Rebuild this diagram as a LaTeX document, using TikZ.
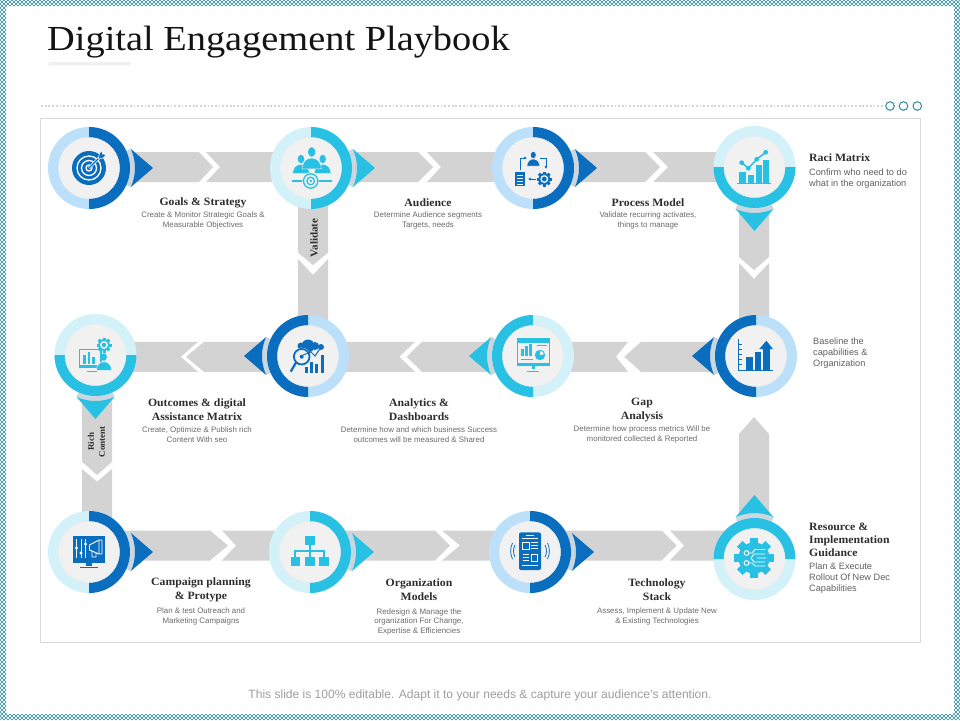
\documentclass[tikz,border=0pt]{standalone}
\usepackage{fontspec}
\usetikzlibrary{arrows.meta}
\setmainfont{Liberation Sans}
\newfontfamily\capfont[FakeStretch=1.09]{Liberation Serif}
\newfontfamily\boldcap[FakeStretch=1.05]{Liberation Serif}
\definecolor{bl}{HTML}{0B6DBD}
\definecolor{bllt}{HTML}{BCE0FA}
\definecolor{te}{HTML}{29C1E3}
\definecolor{telt}{HTML}{D3F1F8}
\definecolor{barg}{HTML}{D3D3D3}
\definecolor{crest}{HTML}{CBD6DF}
\definecolor{hubf}{HTML}{F1F1F1}
\definecolor{hatch}{HTML}{2F8BA5}
\tikzset{
  x=1pt,y=1pt,
  head/.style={font=\boldcap\bfseries\fontsize{11.2}{14}\selectfont,text=black!82,align=center,inner sep=0pt,yshift=-1.7pt},
  vhead/.style={text=black!82,align=center,inner sep=0pt,rotate=90},
  note/.style={font=\fontsize{7.9}{9.5}\selectfont,text=black!58,align=center,inner sep=0pt,yshift=-1pt},
  sidenote/.style={font=\fontsize{9.2}{11}\selectfont,text=black!62,align=left,inner sep=0pt,anchor=west,yshift=-1.2pt},
  hub/.style={circle,fill=hubf,draw=black!7,line width=.5pt,minimum size=61pt,inner sep=0pt},
  tiny dot/.style={circle,draw=hatch,line width=1pt,minimum size=8.6pt,inner sep=0pt}
}
% name, x, y, start of strong half, pale, strong, arrow angle
\newcommand{\dial}[7]{%
  \begin{scope}[shift={(#2,#3)}]
    \fill[crest] (0,0) -- ({#7-24.4}:46) arc[start angle=#7-24.4,end angle=#7+24.4,radius=46] -- cycle;
    \fill[#5] (0,0) circle[radius=41];
    \fill[#6] (#4:41) arc[start angle=#4,end angle=#4+180,radius=41] -- cycle;
    \fill[#6] ({#7+24.4}:46) -- (#7:64) -- ({#7-24.4}:46) arc[start angle=#7-24.4,end angle=#7+24.4,radius=46] -- cycle;
    \node[hub] (#1) at (0,0) {};
  \end{scope}}
\newcommand{\chevH}[7]{%
  \fill[barg] (#2,#1+15) -- (#3,#1+15) -- (#4,#1) -- (#3,#1-15) -- (#2,#1-15) -- cycle;
  \fill[barg] (#5,#1+15) -- (#6,#1) -- (#5,#1-15) -- (#7,#1-15) -- (#7,#1+15) -- cycle;}
\newcommand{\chevV}[7]{%
  \fill[barg] (#1-15,#2) -- (#1-15,#3) -- (#1,#4) -- (#1+15,#3) -- (#1+15,#2) -- cycle;
  \fill[barg] (#1-15,#5) -- (#1,#6) -- (#1+15,#5) -- (#1+15,#7) -- (#1-15,#7) -- cycle;}
\newcommand{\cogwheel}[4]{%
  \begin{scope}[shift={(#1,#2)}]
    \fill[#4] (0,0) circle[radius={0.78*#3}];
    \foreach \a in {0,45,...,315}{\fill[#4,rotate=\a] ({-0.2*#3},0) rectangle ({0.2*#3},#3);}
  \end{scope}}
% x, y of head, scale, colour
\newcommand{\persona}[4]{%
  \begin{scope}[shift={(#1,#2)},scale=#3]
    \fill[#4] (0,0) ellipse[x radius=3.1,y radius=4];
    \fill[#4,draw=hubf,line width=.5pt] (-8,-14) .. controls (-8,-8) and (-4,-5) .. (0,-5) .. controls (4,-5) and (8,-8) .. (8,-14) -- cycle;
  \end{scope}}
\begin{document}
\begin{tikzpicture}
\useasboundingbox (0,0) rectangle (960,-720);
\fill[white] (0,0) rectangle (960,-720);
% hatched page border
\begin{scope}[even odd rule]
  \clip (0,0) rectangle (960,-720) (6,-6) rectangle (954,-714);
  \foreach \k in {-720,-716,...,960}{
    \draw[hatch,line width=.55pt] (\k,0) -- (\k+720,-720);
    \draw[hatch,line width=.55pt] (\k,-720) -- (\k+720,0);
  }
\end{scope}
% title and rules
\node[font=\capfont\fontsize{35.2}{40}\selectfont,text=black!92,anchor=west,inner sep=0pt] (title) at (47,-42) {Digital Engagement Playbook};
\fill[black!6,rounded corners=1.5pt] (48,-62) rectangle (131,-65.5);
\draw[black!17,line width=1.8pt,dash pattern=on 1.8pt off 1.9pt] (41,-106) -- (884,-106);
\node[tiny dot] (d1) at (890,-106) {};
\node[tiny dot] (d2) at (903.5,-106) {};
\node[tiny dot] (d3) at (917.3,-106) {};
\draw[black!15,line width=1pt] (40.5,-118.3) rectangle (920,-642.7);
% bars
\chevH{-167}{89}{199}{213}{206}{220}{311}
\chevH{-167}{311}{418}{433}{427}{441}{533}
\chevH{-167}{533}{645}{660}{653}{668}{755}
\chevV{754}{-167}{-257}{-270}{-263}{-279}{-356}
\chevV{313}{-168}{-252.7}{-265}{-259}{-275}{-356}
\chevH{-356.8}{756}{641}{624.3}{628}{616}{533}
\chevH{-356.8}{533}{422}{406.7}{415}{399.3}{308}
\chevH{-356.8}{308}{204}{186}{198}{180.7}{95}
\chevV{97}{-355}{-461.7}{-475}{-469}{-481.7}{-552}
\chevH{-545.5}{89}{210}{228}{222}{236}{310}
\chevH{-545.5}{310}{435}{450}{442}{460}{530}
\chevH{-545.5}{530}{661.7}{676.7}{670}{684}{754}
\fill[barg] (739,-559) -- (739,-434) -- (754,-417) -- (769,-434) -- (769,-559) -- cycle;
% dials
\dial{c1}{89}{-168}{-90}{bllt}{bl}{0}
\dial{c2}{311}{-168}{-90}{telt}{te}{0}
\dial{c3}{533}{-168}{-90}{bllt}{bl}{0}
\dial{c4}{754.5}{-167}{180}{telt}{te}{-90}
\dial{c5}{756}{-356}{90}{bllt}{bl}{180}
\dial{c6}{533}{-356}{90}{telt}{te}{180}
\dial{c7}{308}{-356}{90}{bllt}{bl}{180}
\dial{c8}{95.5}{-355}{180}{telt}{te}{-90}
\dial{c9}{89}{-552}{-90}{telt}{bl}{0}
\dial{c10}{310}{-552}{-90}{telt}{te}{0}
\dial{c11}{530}{-552}{-90}{bllt}{bl}{0}
\dial{c12}{754.5}{-559}{0}{telt}{te}{90}
% icon 1: target
\fill[bl] (89,-168) circle[radius=17];
\draw[white,line width=1.3pt] (89,-168) circle[radius=12] (89,-168) circle[radius=7.5] (89,-168) circle[radius=3];
\draw[white,line width=2.6pt] (89,-168) -- (101,-156);
\draw[bl,line width=1.2pt] (89,-168) -- (101,-156);
\fill[bl,draw=white,line width=.5pt] (98.5,-158.5) -- (99.5,-153) -- (102,-151) -- (102.5,-154) -- (106,-154.5) -- (104,-157.5) -- (99.5,-159) -- cycle;
% icon 2: audience
\persona{301}{-159}{1.05}{te}
\persona{322.7}{-159}{1.05}{te}
\persona{311.7}{-152}{1.2}{te}
\draw[te,line width=1.2pt] (292,-181) -- (332,-181);
\fill[hubf] (310.7,-181) circle[radius=8.5];
\draw[te,line width=1.3pt] (310.7,-181) circle[radius=7.2] (310.7,-181) circle[radius=3.8];
\fill[te] (310.7,-181) circle[radius=1.3];
% icon 3: process
\persona{533.3}{-155}{.8}{bl}
\draw[bl,line width=.9pt,-{Latex[length=3pt,width=3.2pt]}] (520,-170) -- (520,-158) -- (527,-158);
\draw[bl,line width=.9pt,-{Latex[length=3pt,width=3.2pt]}] (540,-158) -- (546,-158) -- (546,-169);
\fill[bl] (515,-172) rectangle (525,-186);
\draw[white,line width=.7pt] (517,-175) -- (523,-175) (517,-178) -- (523,-178) (517,-181) -- (523,-181) (517,-184) -- (523,-184);
\draw[bl,line width=.9pt,-{Latex[length=3pt,width=3.2pt]}] (536,-179) -- (528,-179);
\cogwheel{544.3}{-179}{7.5}{bl}
\fill[hubf] (544.3,-179) circle[radius=4];
\fill[bl] (544.3,-179) circle[radius=2.4];
% icon 4: raci chart
\fill[te] (739.3,-171.7) rectangle (745.7,-183.3);
\fill[te] (747.7,-175) rectangle (754,-183.3);
\fill[te] (755.7,-165) rectangle (761.7,-183.3);
\fill[te] (763.3,-160) rectangle (769.3,-183.3);
\draw[te,line width=1.2pt] (737,-183.6) -- (771,-183.6);
\draw[te,line width=1.5pt] (741.7,-162.7) -- (748.3,-168.3) -- (756.7,-159.3) -- (765.7,-152.3);
\foreach \p in {(741.7,-162.7),(748.3,-168.3),(756.7,-159.3),(765.7,-152.3)}{\fill[te] \p circle[radius=2.4];}
% icon 5: baseline chart
\draw[bl,line width=1.4pt] (738.3,-339) -- (738.3,-370.5) -- (772.7,-370.5);
\draw[bl,line width=1pt] (738.3,-344) -- (742,-344) (738.3,-349) -- (742,-349) (738.3,-354) -- (742,-354) (738.3,-359) -- (742,-359) (738.3,-364) -- (742,-364);
\fill[bl] (746,-357) rectangle (753,-370.5);
\fill[bl] (755,-352) rectangle (761,-370.5);
\fill[bl] (763,-348) rectangle (770,-370.5);
\fill[bl] (759.3,-349) -- (766.4,-340.7) -- (772.9,-349) -- cycle;
% icon 6: dashboard monitor
\fill[te] (516.7,-338) rectangle (550,-342);
\draw[te,line width=1pt] (517.2,-342) rectangle (549.5,-363);
\fill[te] (516.7,-363) rectangle (550,-366);
\fill[te] (521,-349) rectangle (523.5,-356);
\fill[te] (525,-346) rectangle (527.5,-356);
\fill[te] (529,-344) rectangle (531.5,-356);
\draw[te,line width=1pt] (520.5,-359) -- (533,-359);
\fill[te] (540,-355) circle[radius=5.2];
\fill[hubf] (540,-355) -- (540,-351) arc[start angle=90,end angle=10,radius=4] -- cycle;
\draw[te,line width=.8pt] (537,-345) -- (547,-345);
\fill[te] (531.5,-366) rectangle (534.5,-369);
\draw[te,line width=1pt] (527,-371.5) -- (539,-371.5);
% icon 7: analytics
\fill[bl] (301,-346) circle[radius=3.5] (308,-346) circle[radius=6.5] (315,-346) circle[radius=4];
\fill[hubf] (301.7,-356.7) circle[radius=9];
\draw[bl,line width=1.8pt] (301.7,-356.7) circle[radius=7.8];
\fill[bl] (301.7,-356.7) circle[radius=2];
\draw[bl,line width=2.2pt] (296,-362.5) -- (290.7,-371.7);
\draw[bl,line width=1pt] (303,-355) -- (311,-352) -- (315,-356) -- (321,-347);
\fill[bl] (321,-347) circle[radius=3];
\fill[bl] (305,-366.7) rectangle (307.5,-373.3);
\fill[bl] (310,-361.7) rectangle (312.5,-373.3);
\fill[bl] (315,-364) rectangle (317.5,-373.3);
\fill[bl] (320.5,-355) rectangle (324,-373.3);
% icon 8: outcomes monitor
\draw[te,line width=1.1pt] (79.5,-349.5) rectangle (101,-366);
\fill[te] (79,-366) rectangle (102,-368);
\fill[te] (83,-355) rectangle (85.5,-364);
\fill[te] (87.5,-352) rectangle (90,-364);
\fill[te] (92,-357) rectangle (94.5,-364);
\draw[te,line width=1pt] (87,-371) -- (97,-371);
\cogwheel{104}{-345}{7.5}{te}
\fill[hubf] (104,-345) circle[radius=4];
\fill[te] (104,-345) circle[radius=2.2];
\persona{104}{-357}{.95}{te}
% icon 9: campaign monitor
\fill[bl] (73,-536) rectangle (105,-563);
\fill[bl] (86,-563) rectangle (92,-566);
\draw[bl,line width=1pt] (80,-567.3) -- (98,-567.3);
\draw[white,line width=.8pt] (76.5,-539) -- (76.5,-558) (81,-539) -- (81,-558) (85.5,-539) -- (85.5,-558);
\fill[white] (76.5,-548) circle[radius=1.6] (81,-553) circle[radius=1.6] (85.5,-544) circle[radius=1.6];
\draw[white,line width=.9pt,line join=round] (89.5,-545) -- (99,-540) -- (102,-540) -- (102,-554) -- (99,-554) -- (89.5,-550) -- cycle (92,-551) -- (92,-557) -- (96,-557) -- (96,-552.5) (99,-540) -- (99,-554);
% icon 10: org chart
\fill[te] (305,-535.7) rectangle (314.5,-545);
\fill[te] (290.7,-557) rectangle (300,-566);
\fill[te] (305,-557) rectangle (314.5,-566);
\fill[te] (319,-557) rectangle (328.5,-566);
\draw[te,line width=2pt] (309.7,-545) -- (309.7,-557) (295.3,-557) -- (295.3,-551) -- (323.7,-551) -- (323.7,-557);
% icon 11: phone
\fill[bl,rounded corners=2pt] (519,-532.3) rectangle (541,-570);
\draw[white,line width=.8pt] (526,-535.5) -- (534,-535.5) (522,-538.5) -- (538,-538.5) (522,-565.5) -- (538,-565.5);
\draw[white,line width=.8pt] (522.5,-542) rectangle (529,-549);
\draw[white,line width=.8pt] (531,-542.5) -- (538,-542.5) (531,-545.5) -- (538,-545.5) (531,-548.5) -- (538,-548.5);
\draw[white,line width=.8pt] (531,-554) rectangle (537.5,-561);
\draw[white,line width=.8pt] (522.5,-554.5) -- (529,-554.5) (522.5,-557.5) -- (529,-557.5) (522.5,-560.5) -- (529,-560.5);
\draw[bl,line width=.8pt] (515,-545) .. controls (513,-549) and (513,-553) .. (515,-557) (512.5,-543) .. controls (510,-548) and (510,-554) .. (512.5,-559);
\draw[bl,line width=.8pt] (545,-545) .. controls (547,-549) and (547,-553) .. (545,-557) (547.5,-543) .. controls (550,-548) and (550,-554) .. (547.5,-559);
% icon 12: gear with circuit
\cogwheel{754}{-558}{20}{te}
\draw[white,line width=.9pt,line join=round] (749,-553) -- (752,-553) -- (755,-549.5) -- (765,-549.5) (749,-563) -- (752,-563) -- (755,-566) -- (765,-566);
\draw[white,line width=.9pt,line join=round] (765,-554) -- (754,-554) -- (751,-558) -- (754,-562) -- (765,-562) (757,-558) -- (766,-558);
\draw[white,line width=.9pt] (746.5,-553) circle[radius=2.4] (746.5,-563) circle[radius=2.4];
% labels
\node[head] (t1) at (203,-201) {Goals \& Strategy};
\node[note] (n1) at (203,-219.5) {Create \& Monitor Strategic Goals \&\\Measurable Objectives};
\node[head] (t2) at (428,-201) {Audience};
\node[note] (n2) at (428,-219.5) {Determine Audience segments\\Targets, needs};
\node[head] (t3) at (648,-201) {Process Model};
\node[note] (n3) at (648,-219.5) {Validate recurring activates,\\things to manage};
\node[head,anchor=west] (t4) at (809,-156) {Raci Matrix};
\node[sidenote] (n4) at (809,-177.5) {Confirm who need to do\\what in the organization};
\node[head] (t8) at (197,-408) {Outcomes \& digital\\Assistance Matrix};
\node[note] (n8) at (197,-433.5) {Create, Optimize \& Publish rich\\Content With seo};
\node[head] (t7) at (419,-408) {Analytics \&\\Dashboards};
\node[note] (n7) at (419,-433.5) {Determine how and which business Success\\outcomes will be measured \& Shared};
\node[head] (t6) at (642,-408) {Gap\\Analysis};
\node[note] (n6) at (642,-433.5) {Determine how process metrics Will be\\monitored collected \& Reported};
\node[sidenote] (n5) at (813,-352) {Baseline the\\capabilities \&\\Organization};
\node[head] (t9) at (201,-588) {Campaign planning\\\& Protype};
\node[note] (n9) at (201,-615.5) {Plan \& test Outreach and\\Marketing Campaigns};
\node[head] (t10) at (419,-588) {Organization\\Models};
\node[note] (n10) at (419,-620.5) {Redesign \& Manage the\\organization For Change,\\Expertise \& Efficiencies};
\node[head] (t11) at (657,-588) {Technology\\Stack};
\node[note] (n11) at (657,-615.5) {Assess, Implement \& Update New\\\& Existing Technologies};
\node[head,align=left,anchor=west,font=\boldcap\bfseries\fontsize{11.2}{13}\selectfont] (t12) at (809,-538.5) {Resource \&\\Implementation\\Guidance};
\node[sidenote] (n12) at (809,-577) {Plan \& Execute\\Rollout Of New Dec\\Capabilities};
\node[vhead,font=\boldcap\bfseries\fontsize{10.5}{12}\selectfont] (v1) at (314,-238) {Validate};
\node[vhead,font=\boldcap\bfseries\fontsize{8.6}{11}\selectfont] (v2) at (96.5,-441.7) {Rich\\Content};
\node[font=\fontsize{12.05}{14}\selectfont,text=black!38,inner sep=0pt] (foot) at (480,-695.5) {This slide is 100\% editable. Adapt it to your needs \& capture your audience’s attention.};
\end{tikzpicture}
\end{document}
